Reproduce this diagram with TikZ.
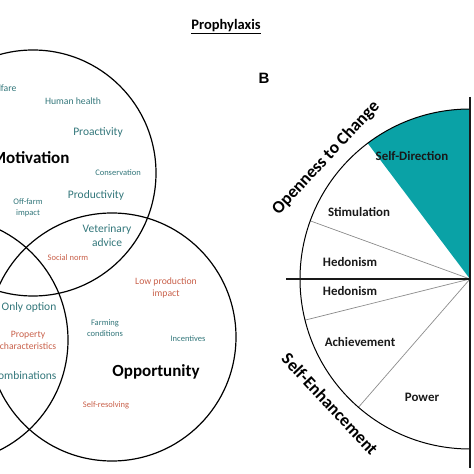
\documentclass[tikz,border=0pt]{standalone}
\usepackage{fontspec}
\setmainfont{Carlito}
\newfontfamily\arialfont{Liberation Sans}
\usetikzlibrary{positioning}
\definecolor{tealtxt}{RGB}{50,118,122}
\definecolor{redtxt}{RGB}{200,96,74}
\definecolor{sectorteal}{RGB}{10,162,166}

\begin{document}
\begin{tikzpicture}[
  x=1pt, y=1pt,
  venn/.style={draw=black, line width=1.2pt},
  heading/.style={font=\fontsize{17}{19}\selectfont\bfseries},
  tealL/.style={text=tealtxt, font=\fontsize{11.5}{14}\selectfont, align=center},
  tealM/.style={text=tealtxt, font=\fontsize{9.7}{12}\selectfont, align=center},
  tealS/.style={text=tealtxt, font=\fontsize{8.5}{10.5}\selectfont, align=center},
  redM/.style={text=redtxt, font=\fontsize{9.7}{12}\selectfont, align=center},
  redS/.style={text=redtxt, font=\fontsize{8.5}{10.5}\selectfont, align=center},
  value/.style={text=black!90, font=\fontsize{12.9}{15}\selectfont\bfseries},
  dimlabel/.style={text=black, font=\fontsize{17.5}{19}\selectfont\bfseries},
  rim/.style={draw=black, line width=1pt},
  divider/.style={draw=black!45, line width=0.7pt},
  axisline/.style={draw=black!90, line width=2.4pt},
]
  \useasboundingbox (0,0) rectangle (474,474);
  \clip (0,0) rectangle (474,474);

  % Title
  \node[font=\fontsize{14.5}{16}\selectfont\bfseries] (title) at (226,447)
    {\underline{Prophylaxis}};

  % Venn circles
  \def\vr{123}
  \draw[venn] (33,301) circle[radius=\vr];   % motivation
  \draw[venn] (112,137) circle[radius=124];  % opportunity
  \draw[venn] (-55,134) circle[radius=\vr];  % capability

  % Motivation entries
  \node[tealM, anchor=east] (welfare) at (20,386) {Welfare};
  \node[tealM] (health) at (73,373) {Human health};
  \node[tealL] (proact) at (98,342) {Proactivity};
  \node[heading, anchor=east] (motiv) at (73,316) {Motivation};
  \node[tealS] (conserv) at (118,301) {Conservation};
  \node[tealL] (product) at (96,279) {Productivity};
  \node[tealS] (offfarm) at (28,266) {Off-farm\\impact};
  \node[tealL] (vet) at (107,238) {Veterinary\\advice};
  \node[redS] (social) at (68,216) {Social norm};

  % Opportunity entries
  \node[redM] (lowprod) at (166,186) {Low production\\impact};
  \node[tealL] (only) at (29,167) {Only option};
  \node[redM] (property) at (28,134) {Property\\characteristics};
  \node[tealS] (farming) at (105,146) {Farming\\conditions};
  \node[tealS] (incent) at (188,135) {Incentives};
  \node[tealL, anchor=east] (combi) at (60,98) {Combinations};
  \node[heading] (oppor) at (156,102) {Opportunity};
  \node[redS] (selfres) at (106,69) {Self-resolving};

  % Panel B: value sectors
  \node[font=\arialfont\fontsize{15}{17}\selectfont\bfseries] (panelB) at (264,396) {B};
  \def\rad{170}
  \coordinate (hub) at (470,195);
  \fill[sectorteal] (hub) -- ++(90:\rad) arc[start angle=90, end angle=127, radius=\rad] -- cycle;
  \foreach \a in {160,194,229}
    \draw[divider] (hub) -- ++(\a:\rad);
  \draw[rim] (hub) ++(90:\rad) arc[start angle=90, end angle=270, radius=\rad];

  % Axes
  \coordinate (axtop) at (470,377);
  \coordinate (axbot) at (470,6);
  \coordinate (axleft) at (286,195);
  \draw[axisline] (axtop) -- (axbot);
  \draw[axisline] (hub) -- (axleft);

  \node[value] (selfdir) at (412,318) {Self-Direction};
  \node[value] (stimul) at (359,262) {Stimulation};
  \node[value] (hedonA) at (350,212) {Hedonism};
  \node[value] (hedonB) at (350,183) {Hedonism};
  \node[value] (achieve) at (360,132) {Achievement};
  \node[value] (power) at (422,77) {Power};

  \node[dimlabel, rotate=47] (openness) at (326,316) {Openness to Change};
  \node[dimlabel, rotate=-47] (selfenh) at (330,70) {Self-Enhancement};
\end{tikzpicture}
\end{document}
